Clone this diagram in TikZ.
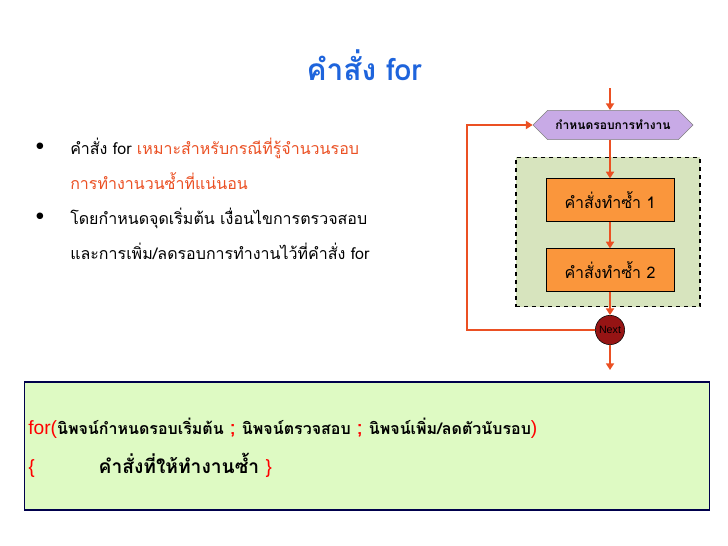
\documentclass[tikz,border=0pt]{standalone}
\usepackage{fontspec}
\setmainfont[Script=Thai]{Loma}
\newfontfamily\latin{Liberation Sans}
\usetikzlibrary{shapes.misc,shapes.geometric,shapes.symbols,arrows.meta}
\definecolor{org}{RGB}{235,80,35}
\definecolor{boxor}{RGB}{250,150,60}
\definecolor{lav}{RGB}{200,170,230}
\definecolor{grn}{RGB}{215,228,190}
\definecolor{code}{RGB}{222,250,195}
\definecolor{ttl}{RGB}{30,100,220}
\definecolor{dred}{RGB}{150,20,20}
\tikzset{flow/.style={draw=org,line width=1.6pt,-{Triangle[length=5pt,width=6pt]}},
 stepbox/.style={draw=black,fill=boxor,minimum width=96pt,minimum height=32pt,font=\large},
 bultext/.style={anchor=west,font=\large,align=left,inner sep=0pt}}
\begin{document}
\begin{tikzpicture}[x=0.75pt,y=-0.75pt]
\useasboundingbox (0,0) rectangle (728,546);
\fill[white] (0,0) rectangle (728,546);
\node[font=\bfseries\LARGE,text=ttl,scale=1.3] (title) at (364,65) {คำสั่ง for};
\node[font=\Large] (b1) at (40,148) {•};
\node[bultext] (t1) at (70,148) {คำสั่ง for \textcolor{org}{เหมาะสำหรับกรณีที่รู้จำนวนรอบ}};
\node[bultext,text=org] (t1b) at (70,181) {การทำงานวนซ้ำที่แน่นอน};
\node[font=\Large] (b2) at (40,218) {•};
\node[bultext] (t2) at (70,218) {โดยกำหนดจุดเริ่มต้น เงื่อนไขการตรวจสอบ};
\node[bultext] (t2b) at (70,251) {และการเพิ่ม/ลดรอบการทำงานไว้ที่คำสั่ง for};
\node[draw=black,dashed,line width=1.2pt,fill=grn,minimum width=138pt,minimum height=112pt] (grp) at (608,232) {};
\node[draw=gray,fill=lav,shape=signal,signal to=west and east,minimum width=120pt,minimum height=22pt,inner xsep=2pt,font=\small\bfseries] (hex) at (613,125) {กำหนดรอบการทำงาน};
\node[stepbox] (s1) at (610,200) {คำสั่งทำซ้ำ 1};
\node[stepbox] (s2) at (610,270) {คำสั่งทำซ้ำ 2};
\node[circle,fill=dred,draw=black,minimum size=22pt,inner sep=0pt,font=\latin\footnotesize] (nx) at (610,330) {Next};
\coordinate (top) at (610,88);
\coordinate (bot) at (610,370);
\coordinate (lc) at (467,330);
\coordinate (lt) at (467,125);
\draw[flow] (top) -- (hex.north -| top);
\draw[flow] (hex.south -| top) -- (s1);
\draw[flow] (s1) -- (s2);
\draw[flow] (s2) -- (nx);
\draw[flow] (nx) -- (bot);
\draw[flow] (nx.west) -- (lc) -- (lt) -- (hex.west);
\node[draw=black!70!blue,line width=1pt,fill=code,minimum width=514pt,minimum height=96pt] (cb) at (367,446) {};
\node[anchor=west,font=\Large,inner sep=0pt] (l1) at (28,428) {\textcolor{red}{\latin for(}\textbf{\large นิพจน์กำหนดรอบเริ่มต้น} \textcolor{red}{\textbf{;}} \textbf{\large นิพจน์ตรวจสอบ} \textcolor{red}{\textbf{;}} \textbf{\large นิพจน์เพิ่ม/ลดตัวนับรอบ}\textcolor{red}{\latin)}};
\node[anchor=west,font=\Large,inner sep=0pt] (l2) at (28,465) {\textcolor{red}{\{}\hspace{48pt}\textbf{คำสั่งที่ให้ทำงานซ้ำ} \textcolor{red}{\}}};
\end{tikzpicture}
\end{document}
